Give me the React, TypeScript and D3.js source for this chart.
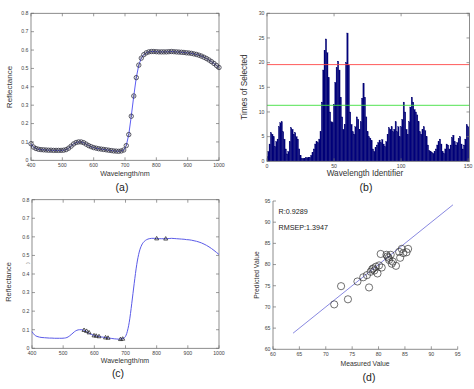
import React from "react";
import * as d3 from "d3";

// ---- Panel (a)/(c): reflectance spectrum ----
const wavelengths = [400,408,416,424,432,440,448,456,464,472,480,488,496,504,512,520,528,536,544,552,560,568,576,584,592,600,608,616,624,632,640,648,656,664,672,680,688,696,704,712,720,728,736,744,752,760,768,776,784,792,800,808,816,824,832,840,848,856,864,872,880,888,896,904,912,920,928,936,944,952,960,968,976,984,992,1000];
const reflectance = [0.090,0.072,0.064,0.060,0.058,0.057,0.056,0.055,0.055,0.054,0.054,0.054,0.054,0.055,0.058,0.066,0.077,0.089,0.097,0.100,0.100,0.096,0.088,0.080,0.074,0.069,0.066,0.063,0.061,0.059,0.057,0.055,0.053,0.051,0.050,0.049,0.051,0.056,0.080,0.140,0.240,0.350,0.450,0.518,0.556,0.575,0.585,0.590,0.592,0.592,0.591,0.590,0.590,0.590,0.590,0.591,0.592,0.591,0.590,0.589,0.588,0.587,0.585,0.584,0.582,0.579,0.576,0.572,0.567,0.561,0.554,0.546,0.537,0.527,0.516,0.505];
const selectedWl = [567,575,583,599,606,615,636,644,684,691,800,829];
const selectedRef = [0.098,0.093,0.085,0.069,0.067,0.064,0.058,0.056,0.049,0.051,0.591,0.590];
const wlTicks = [400,500,600,700,800,900,1000];
const refTicks = [0,0.1,0.2,0.3,0.4,0.5,0.6,0.7,0.8];

// ---- Panel (b): selection counts ----
const selectTimes = [1,2,3.5,5.8,5.5,5,3,4,4.5,7,7.8,8,6,4.5,2.5,1.5,2,4,6.8,6.5,5.5,5.8,5,4.5,2.5,1.2,0.5,0.6,0.6,0.7,0.7,0.7,0.8,1.2,1.8,2.5,3.5,4,3.8,4.5,6,12,18.5,22.5,24.8,22,17,10,8,7.8,11.5,16,19,20.3,18.5,13,9,6.5,7.5,20,26,19.5,10,7.5,6,5.5,7,9,8.5,6.5,8,12.8,15.8,13,9,6,5,4.7,4.2,2.5,2,2.8,3.3,3.8,4.3,3.8,4.4,3.5,3,4,5.5,6.8,6.5,7,6,6.5,8,6,7,5,7,8.5,12,10,6.5,5.5,8,11,13,12,10.5,10,9.4,8,6,5.5,6.5,7,6.2,5,3.3,2.2,2,1.8,1.6,2,2.5,3.3,4,4.5,3.5,2,1.6,2.5,3.5,3.3,2.5,3.3,4.8,5.3,4,3.3,3.8,4.6,5,3.5,2.5,3.3,4.5,7.4,7];
const redThreshold = 19.6;
const greenThreshold = 11.35;
const idTicks = [0,50,100,150];
const timeTicks = [0,5,10,15,20,25,30];

// ---- Panel (d): measured vs predicted ----
const measured = [71.6,72.9,74.2,76.0,77.1,78.2,77.8,78.5,79.0,79.5,79.8,80.6,80.4,81.5,81.9,82.3,82.0,82.7,83.3,84.1,84.4,84.7,85.6,85.3,79.2,78.8,81.7,83.9,80.1,82.5];
const predicted = [70.6,74.9,71.8,76.0,77.0,74.6,77.5,78.3,79.1,79.5,77.9,79.3,82.5,82.3,81.6,82.3,81.1,80.7,79.7,81.6,83.7,82.7,83.7,82.9,78.6,78.9,81.9,83.0,79.8,80.2];
const fitLine = [63.8, 94.1];
const dTicks = [60,65,70,75,80,85,90,95];

const FONT = "'Liberation Sans', Arial, sans-serif";
const AX = "#707070";
const TXT = "#444";

function Frame({ x, y, xticks, yticks, fmtY, fmtX, box = true, tick = 3 }: any) {
  const [x0, x1] = x.range();
  const [y0, y1] = y.range();
  return (
    <g>
      {box && <rect x={x0} y={y1} width={x1 - x0} height={y0 - y1} fill="none" stroke={AX} strokeWidth={0.8} />}
      {!box && (
        <g>
          <line x1={x0} x2={x1} y1={y0} y2={y0} stroke={AX} strokeWidth={0.8} />
          <line x1={x0} x2={x0} y1={y0} y2={y1} stroke={AX} strokeWidth={0.8} />
        </g>
      )}
      {xticks.map((t: number) => (
        <g key={"x" + t}>
          <line x1={x(t)} x2={x(t)} y1={y0} y2={y0 - tick} stroke={AX} strokeWidth={0.7} />
          {box && <line x1={x(t)} x2={x(t)} y1={y1} y2={y1 + tick} stroke={AX} strokeWidth={0.7} />}
          <text x={x(t)} y={y0 + 6.5} fontSize={5.2} fill={TXT} textAnchor="middle" fontFamily={FONT}>{fmtX ? fmtX(t) : t}</text>
        </g>
      ))}
      {yticks.map((t: number) => (
        <g key={"y" + t}>
          <line x1={x0} x2={x0 + tick} y1={y(t)} y2={y(t)} stroke={AX} strokeWidth={0.7} />
          {box && <line x1={x1} x2={x1 - tick} y1={y(t)} y2={y(t)} stroke={AX} strokeWidth={0.7} />}
          <text x={x0 - 2.5} y={y(t) + 1.8} fontSize={5.2} fill={TXT} textAnchor="end" fontFamily={FONT}>{fmtY ? fmtY(t) : t}</text>
        </g>
      ))}
    </g>
  );
}

export default function App() {
  // Panel a
  const xa = d3.scaleLinear().domain([400, 1000]).range([31, 219]);
  const ya = d3.scaleLinear().domain([0, 0.8]).range([160.3, 13.3]);
  const spec = wavelengths.map((w, i) => [w, reflectance[i]] as [number, number]);
  const lineA = d3.line<[number, number]>().x(d => xa(d[0])).y(d => ya(d[1]));
  // Panel b
  const xb = d3.scaleLinear().domain([0, 151]).range([267, 469.5]);
  const yb = d3.scaleLinear().domain([0, 30]).range([161.3, 13.3]);
  // Panel c
  const xc = d3.scaleLinear().domain([400, 1000]).range([32, 219]);
  const yc = d3.scaleLinear().domain([0, 0.8]).range([348.3, 199.7]);
  const lineC = d3.line<[number, number]>().x(d => xc(d[0])).y(d => yc(d[1])).curve(d3.curveMonotoneX);
  // Panel d
  const xd = d3.scaleLinear().domain([60, 95]).range([273, 457.7]);
  const yd = d3.scaleLinear().domain([60, 95]).range([349.3, 201]);

  const fmtRef = (t: number) => (t === 0 ? "0" : d3.format(".1f")(t));
  const tri = (cx: number, cy: number, s: number) =>
    `M${cx},${cy - s} L${cx + s * 0.95},${cy + s * 0.65} L${cx - s * 0.95},${cy + s * 0.65} Z`;

  return (
    <svg width={474} height={389} style={{ position: "absolute", left: 0, top: 0, background: "#fff" }} fontFamily={FONT}>
      <rect x={0} y={0} width={474} height={389} fill="#fff" />
      <defs>
        <clipPath id="clipB"><rect x={267} y={13.3} width={202.5} height={148} /></clipPath>
      </defs>

      {/* Panel (a) */}
      <Frame x={xa} y={ya} xticks={wlTicks} yticks={refTicks} fmtY={fmtRef} />
      <path d={lineA(spec) || ""} fill="none" stroke="#4a4af0" strokeWidth={0.9} />
      {spec.map((d, i) => (
        <g key={"ma" + i}>
          <circle cx={xa(d[0])} cy={ya(d[1])} r={2.2} fill="none" stroke="#2a2a3a" strokeWidth={0.75} />
          <path d={`M${xa(d[0]) - 1.1},${ya(d[1]) - 1.1} L${xa(d[0]) + 1.1},${ya(d[1]) + 1.1} M${xa(d[0]) - 1.1},${ya(d[1]) + 1.1} L${xa(d[0]) + 1.1},${ya(d[1]) - 1.1}`} stroke="#555" strokeWidth={0.5} />
        </g>
      ))}
      <text x={12} y={87} fontSize={8} fill="#333" textAnchor="middle" transform="rotate(-90 12 87)">Reflectance</text>
      <text x={125} y={176} fontSize={7.2} fill="#333" textAnchor="middle">Wavelength/nm</text>
      <text x={122} y={191} fontSize={10.5} fill="#222" textAnchor="middle">(a)</text>

      {/* Panel (b) */}
      <g clipPath="url(#clipB)">
        {selectTimes.map((v, i) => (
          <rect key={"b" + i} x={xb(i - 0.5)} y={yb(v)} width={xb(i + 0.5) - xb(i - 0.5)} height={yb(0) - yb(v)} fill="#00007c" stroke="#00006a" strokeWidth={0.3} />
        ))}
      </g>
      <line x1={xb(0)} x2={xb(151)} y1={yb(redThreshold)} y2={yb(redThreshold)} stroke="#ff4848" strokeWidth={0.9} />
      <line x1={xb(0)} x2={xb(151)} y1={yb(greenThreshold)} y2={yb(greenThreshold)} stroke="#3ee03e" strokeWidth={0.9} />
      <Frame x={xb} y={yb} xticks={idTicks} yticks={timeTicks} />
      <text x={247} y={87} fontSize={8.2} fill="#333" textAnchor="middle" transform="rotate(-90 247 87)">Times of Selected</text>
      <text x={365} y={176} fontSize={8.2} fill="#333" textAnchor="middle">Wavelength Identifier</text>
      <text x={366} y={191} fontSize={10.5} fill="#222" textAnchor="middle">(b)</text>

      {/* Panel (c) */}
      <Frame x={xc} y={yc} xticks={wlTicks} yticks={refTicks} fmtY={fmtRef} />
      <path d={lineC(spec) || ""} fill="none" stroke="#5a5ae8" strokeWidth={1} />
      {selectedWl.map((w, i) => (
        <path key={"t" + i} d={tri(xc(w), yc(selectedRef[i]), 2.1)} fill="none" stroke="#222" strokeWidth={0.75} />
      ))}
      <text x={11} y={282} fontSize={7.5} fill="#333" textAnchor="middle" transform="rotate(-90 11 282)">Reflectance</text>
      <text x={29} y={263} fontSize={4} fill="#555" textAnchor="middle" transform="rotate(-90 29 263)">)</text>
      <text x={125} y={363} fontSize={7} fill="#333" textAnchor="middle">Wavelength/nm</text>
      <text x={118} y={377} fontSize={10.5} fill="#222" textAnchor="middle">(c)</text>

      {/* Panel (d) */}
      <Frame x={xd} y={yd} xticks={dTicks} yticks={dTicks} box={false} />
      <line x1={xd(fitLine[0])} y1={yd(fitLine[0])} x2={xd(fitLine[1])} y2={yd(fitLine[1])} stroke="#6a6ad8" strokeWidth={0.8} />
      {measured.map((m, i) => (
        <circle key={"d" + i} cx={xd(m)} cy={yd(predicted[i])} r={3.6} fill="none" stroke="#333" strokeWidth={0.7} />
      ))}
      <text x={278.5} y={214} fontSize={7.2} fill="#222">R:0.9289</text>
      <text x={278.5} y={230} fontSize={7.2} fill="#222">RMSEP:1.3947</text>
      <text x={259} y={275} fontSize={6.8} fill="#333" textAnchor="middle" transform="rotate(-90 259 275)">Predicted Value</text>
      <text x={365} y={366} fontSize={6.8} fill="#333" textAnchor="middle">Measured Value</text>
      <text x={369} y={381} fontSize={10.5} fill="#222" textAnchor="middle">(d)</text>
    </svg>
  );
}
